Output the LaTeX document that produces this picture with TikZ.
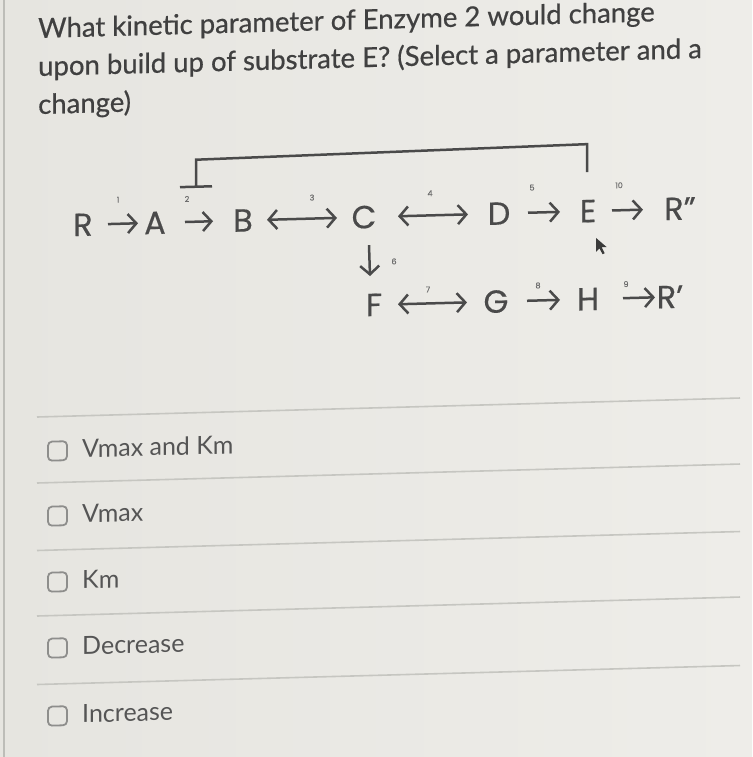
\documentclass[tikz,border=0pt]{standalone}
\usepackage{fontspec}
\setmainfont{Lato}
\newfontfamily\qfont{Lato}[FakeBold=0.6]
\newfontfamily\rxfont{Poppins}[FakeBold=0.4]
\usetikzlibrary{arrows.meta}
\definecolor{bgL}{HTML}{E6E5E0}
\definecolor{bgR}{HTML}{EEEDE9}
\definecolor{qcol}{HTML}{404040}
\definecolor{ocol}{HTML}{555555}
\definecolor{rcol}{HTML}{4A4A4A}
\definecolor{lcol}{HTML}{6E6E6E}
\definecolor{sepcol}{HTML}{C6C6C1}
\definecolor{boxcol}{HTML}{8E8E8C}
\definecolor{edgecol}{HTML}{BDBDB8}
\definecolor{curcol}{HTML}{3A3A3A}
\begin{document}
\begin{tikzpicture}[x=1pt,y=-1pt,
 qtxt/.style={font=\qfont\fontsize{27.5pt}{33pt}\selectfont, text=qcol, inner sep=0, anchor=base west},
 otxt/.style={font=\fontsize{25pt}{30pt}\selectfont, text=ocol, inner sep=0, anchor=base west},
 cbox/.style={draw=boxcol, line width=1.8pt, rounded corners=4pt, minimum size=19pt, inner sep=0},
 sepline/.style={draw=sepcol, line width=1.6pt},
 rx/.style={font=\rxfont\fontsize{32pt}{38pt}\selectfont, text=rcol, inner sep=0, text height=22.3pt, text depth=0pt},
 num/.style={font=\rxfont\fontsize{8pt}{9pt}\selectfont, text=lcol, inner sep=0},
 rarr/.style={draw=rcol, line width=2.5pt, -{Straight Barb[length=8.5pt,width=19pt]}},
 darr/.style={draw=rcol, line width=2.5pt, {Straight Barb[length=8.5pt,width=19pt]}-{Straight Barb[length=8.5pt,width=19pt]}},
 brk/.style={draw=rcol, line width=2.5pt}]
\useasboundingbox (0,0) rectangle (752,757);
\shade[left color=bgL, right color=bgR] (0,0) rectangle (752,757);
\draw[draw=edgecol, line width=1.5pt] (4,0) -- (4,757);
\begin{scope}[yslant=0.027, transform shape]
% question
\node[qtxt] (q1) at (38,39) {What kinetic parameter of Enzyme 2 would change};
\node[qtxt] (q2) at (38,77) {upon build up of substrate E? (Select a parameter and a};
\node[qtxt] (q3) at (38,115) {change)};
% bracket
\coordinate (tbl) at (180,192);
\coordinate (tbr) at (212,192);
\coordinate (tbm) at (196,192);
\coordinate (bl) at (196,165);
\coordinate (br) at (587,160);
\coordinate (be) at (587,188);
\draw[brk] (tbl) -- (tbr);
\draw[brk] (tbm) -- (bl) -- (br) -- (be);
% reaction row 1
\node[rx] (R) at (83,227) {R};
\node[rx] (A) at (155,227) {A};
\node[rx] (B) at (243,227) {B};
\node[rx] (C) at (364,227) {C};
\node[rx] (D) at (499,227) {D};
\node[rx] (E) at (588,227) {E};
\node[rx] (Rpp) at (680,227) {R”};
% reaction row 2
\node[rx] (F) at (374,315) {F};
\node[rx] (G) at (496,315) {G};
\node[rx] (H) at (588,315) {H};
\node[rx] (Rp) at (670,315) {R’};
% arrows
\draw[rarr] ([xshift=25pt]R.center) -- ([xshift=-17pt]A.center);
\draw[rarr] ([xshift=30pt]A.center) -- ([xshift=-30pt]B.center);
\draw[darr] ([xshift=24pt]B.center) -- ([xshift=-27pt]C.center);
\draw[darr] ([xshift=34pt]C.center) -- ([xshift=-31pt]D.center);
\draw[rarr] ([xshift=29pt]D.center) -- ([xshift=-28pt]E.center);
\draw[rarr] ([xshift=24pt]E.center) -- ([xshift=-37pt]Rpp.center);
\draw[darr] ([xshift=24pt]F.center) -- ([xshift=-29pt]G.center);
\draw[rarr] ([xshift=31pt]G.center) -- ([xshift=-28pt]H.center);
\draw[rarr] ([xshift=35pt]H.center) -- ([xshift=-15pt]Rp.center);
\draw[rarr] ([xshift=5pt,yshift=-28pt]C.center) -- ([xshift=-4pt,yshift=29pt]F.center);
% enzyme numbers
\node[num] (n1) at (118,203) {1};
\node[num] (n2) at (187,204) {2};
\node[num] (n3) at (312,206) {3};
\node[num] (n4) at (430,205) {4};
\node[num] (n5) at (532,202) {5};
\node[num] (n10) at (619,202) {10};
\node[num] (n6) at (394,272) {6};
\node[num] (n7) at (428,301) {7};
\node[num] (n8) at (538,300) {8};
\node[num] (n9) at (626,301) {9};
% cursor
\fill[curcol] (596,254) -- ++(0,14) -- ++(3.5,-3.5) -- ++(3,6) -- ++(2.2,-1) -- ++(-3,-6) -- ++(5,0) -- cycle;
% separators
\draw[sepline] (37,418) -- (740,418);
\draw[sepline] (37,484) -- (740,484);
\draw[sepline] (37,551.5) -- (740,551.5);
\draw[sepline] (37,617) -- (740,617);
\draw[sepline] (37,685.5) -- (740,685.5);
% options
\node[cbox] (b1) at (57.5,452.5) {};
\node[cbox] (b2) at (57.5,517.5) {};
\node[cbox] (b3) at (57.5,583.5) {};
\node[cbox] (b4) at (57.5,649.5) {};
\node[cbox] (b5) at (57.5,717.5) {};
\node[otxt] (o1) at (82,460) {Vmax and Km};
\node[otxt] (o2) at (82,525) {Vmax};
\node[otxt] (o3) at (82,591) {Km};
\node[otxt] (o4) at (82,657) {Decrease};
\node[otxt] (o5) at (82,725) {Increase};
\end{scope}
\end{tikzpicture}
\end{document}
